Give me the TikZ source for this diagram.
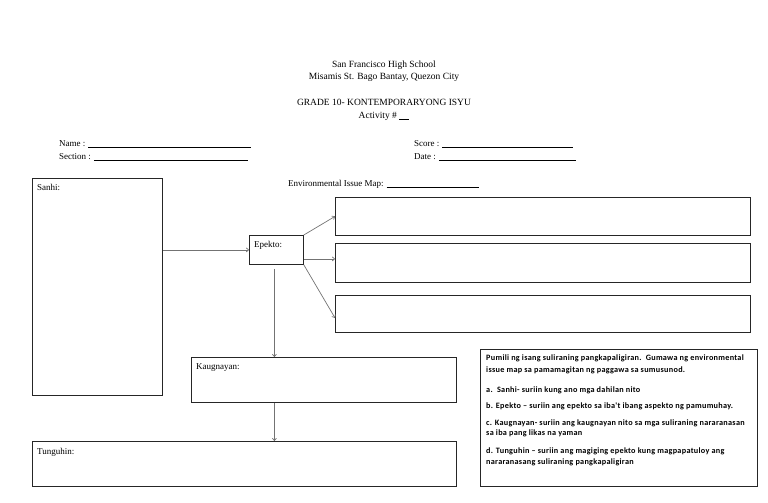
\documentclass[tikz,border=0pt]{standalone}
\usepackage{fontspec}
\setmainfont{Liberation Serif}
\newfontfamily\instrfont[LetterSpace=3.5]{Carlito}
\usetikzlibrary{arrows.meta,calc}
\begin{document}
\begin{tikzpicture}[x=1pt,y=-1pt,
 box/.style={draw=black!85, line width=0.8pt, anchor=north west, inner sep=0pt},
 lbl/.style={anchor=base west, inner sep=0pt, font=\fontsize{9}{11}\selectfont},
 hdr/.style={inner sep=0pt, anchor=base, font=\fontsize{9.5}{11}\selectfont},
 hdrl/.style={inner sep=0pt, anchor=base west, font=\fontsize{9}{11}\selectfont},
 arr/.style={draw=black!55, line width=0.7pt, -{To[length=3pt,width=4.5pt]}},
 ins/.style={anchor=base west, inner sep=0pt, font=\instrfont\bfseries\fontsize{8.2}{10}\selectfont}]
\useasboundingbox (0,0) rectangle (768,503);
% header
\node[hdr] (school) at (384,67) {San Francisco High School};
\node[hdr] (addr) at (384,80) {Misamis St. Bago Bantay, Quezon City};
\node[hdr] (grade) at (384,105) {GRADE 10- KONTEMPORARYONG ISYU};
\node[hdr] (act) at (384,118) {Activity \# \rule[-1.5pt]{10pt}{0.5pt}};
\node[hdrl] (name) at (59,146) {Name : \rule[-1.5pt]{163pt}{0.5pt}};
\node[hdrl] (section) at (59,159) {Section : \rule[-1.5pt]{154pt}{0.5pt}};
\node[hdrl] (score) at (414,146) {Score : \rule[-1.5pt]{131pt}{0.5pt}};
\node[hdrl] (date) at (414,159) {Date : \rule[-1.5pt]{137pt}{0.5pt}};
\node[hdrl] (map) at (288,186) {Environmental Issue Map: \rule[-1.5pt]{92pt}{0.5pt}};
% boxes
\node[box, minimum width=130pt, minimum height=217pt] (sanhi) at (32,178) {};
\node[box, minimum width=54pt, minimum height=29pt] (epekto) at (249,235) {};
\node[box, minimum width=415pt, minimum height=38pt] (e1) at (335,197) {};
\node[box, minimum width=415pt, minimum height=39pt] (e2) at (335,243) {};
\node[box, minimum width=415pt, minimum height=37pt] (e3) at (335,295) {};
\node[box, minimum width=265pt, minimum height=45pt] (kaug) at (191,357) {};
\node[box, minimum width=424pt, minimum height=45pt] (tung) at (32,441) {};
\node[box, minimum width=277pt, minimum height=137pt] (instr) at (480,349) {};
% labels
\node[lbl] (lsanhi) at (37,190) {Sanhi:};
\node[lbl] (lepekto) at (254,247) {Epekto:};
\node[lbl] (lkaug) at (196,369) {Kaugnayan:};
\node[lbl] (ltung) at (37,454) {Tunguhin:};
% instructions
\node[ins] (i1) at (486,360.5) {Pumili ng isang suliraning pangkapaligiran.\ \ Gumawa ng environmental};
\node[ins] (i2) at (486,372.5) {issue map sa pamamagitan ng paggawa sa sumusunod.};
\node[ins] (i3) at (486,392.5) {a.\ \ Sanhi- suriin kung ano mga dahilan nito};
\node[ins] (i4) at (486,408.5) {b. Epekto – suriin ang epekto sa iba't ibang aspekto ng pamumuhay.};
\node[ins] (i5) at (486,425.5) {c. Kaugnayan- suriin ang kaugnayan nito sa mga suliraning nararanasan};
\node[ins] (i6) at (486,435.5) {sa iba pang likas na yaman};
\node[ins] (i7) at (486,453.5) {d. Tunguhin – suriin ang magiging epekto kung magpapatuloy ang};
\node[ins] (i8) at (486,464.5) {nararanasang suliraning pangkapaligiran};
% connectors
\draw[arr] (epekto.west -| sanhi.east) -- (epekto.west);
\draw[arr] (epekto.north east) -- (e1.west);
\draw[arr] ([yshift=4pt]e2.west -| epekto.east) -- ([yshift=4pt]e2.west);
\draw[arr] (epekto.south east) -- ([yshift=-4pt]e3.west);
\coordinate (v1) at ([xshift=-2pt,yshift=-4pt]epekto.south);
\draw[arr] (v1) -- (kaug.north -| v1);
\draw[arr] (kaug.south -| v1) -- (tung.north -| v1);
\end{tikzpicture}
\end{document}
